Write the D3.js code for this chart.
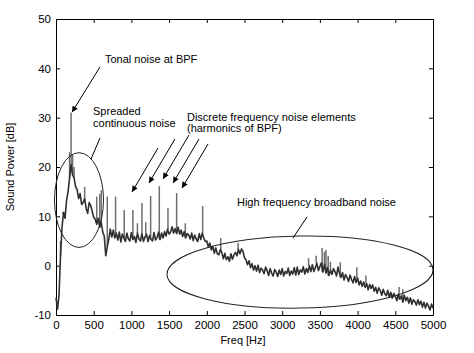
<!DOCTYPE html>
<html><head><meta charset="utf-8">
<script src="https://cdn.jsdelivr.net/npm/d3@7"></script>
<style>
html,body{margin:0;padding:0;background:#fff;}
svg{display:block;font-family:"Liberation Sans",Arial,sans-serif;}
</style></head>
<body><svg id="chart" width="474" height="353"></svg>
<script>
// ---- data ----
const freqStep = 20; // Hz between samples
// dark spectrum trace, dB, sampled every 20 Hz from 0 to 5000 Hz
const soundPower = [
 -6.5,-8.8,-6.0,2.0,7.8,10.8,9.6,13.2,15.0,17.8,        // 0-180
 20.5,18.4,17.8,16.0,15.4,13.6,14.6,12.4,12.8,13.6,     // 200-380
 11.6,10.6,12.8,12.2,11.0,9.8,9.4,8.4,9.6,7.8,          // 400-580
 8.8,6.8,6.0,2.0,3.8,5.4,7.4,5.8,7.2,5.6,               // 600-780
 6.6,5.2,6.8,4.8,6.4,5.6,4.9,6.6,5.4,5.0,               // 800-980
 6.7,5.3,5.9,4.7,6.6,5.4,5.0,6.5,4.9,5.8,               // 1000-1180
 6.4,4.9,6.1,5.3,5.0,6.7,5.2,5.7,6.8,5.3,               // 1200-1380
 6.6,5.6,6.9,6.0,7.4,6.4,6.8,7.9,6.6,7.5,               // 1400-1580
 6.5,7.8,6.4,7.2,5.9,6.9,5.6,6.5,6.2,5.4,               // 1600-1780
 6.6,5.1,6.2,5.4,4.9,6.5,5.3,6.6,5.6,4.9,               // 1800-1980
 5.0,3.8,4.6,3.2,3.9,2.5,3.6,2.4,2.2,3.3,               // 2000-2180
 2.6,1.4,2.5,1.2,1.8,0.9,2.4,1.3,2.2,2.7,               // 2200-2380
 2.0,3.3,2.4,3.4,2.9,1.6,1.2,0.2,1.0,-0.4,              // 2400-2580
 0.4,-0.9,0.0,-1.1,0.1,-1.4,-0.5,-0.9,-1.6,-0.3,        // 2600-2780
 -1.0,-2.0,-0.6,-1.5,-2.1,-0.8,-1.3,-2.2,-0.9,-1.8,     // 2800-2980
 -0.6,-2.1,-1.2,-1.6,-0.5,-2.0,-1.1,-1.7,-0.4,-1.9,     // 3000-3180
 -0.3,-1.8,-0.9,-1.3,-0.2,-1.7,-0.6,-1.4,0.0,-1.2,      // 3200-3380
 0.2,-1.2,-0.4,0.5,-1.0,-0.2,0.6,-1.3,0.3,-1.5,         // 3400-3580
 -0.4,-2.0,-0.9,-1.8,-0.6,-1.2,-2.1,-0.3,-1.6,-2.4,     // 3600-3780
 -1.4,-2.9,-1.8,-2.4,-3.2,-1.9,-2.8,-3.5,-2.2,-3.4,     // 3800-3980
 -2.5,-3.9,-3.1,-4.2,-3.3,-4.4,-3.6,-4.9,-3.8,-4.6,     // 4000-4180
 -3.9,-5.2,-4.4,-5.6,-4.5,-5.0,-6.0,-4.8,-5.7,-6.1,     // 4200-4380
 -5.0,-6.4,-5.4,-6.6,-5.6,-6.2,-7.1,-5.8,-6.8,-6.1,     // 4400-4580
 -7.4,-6.0,-7.1,-6.4,-7.6,-6.5,-7.8,-6.9,-7.3,-8.0,     // 4600-4780
 -6.9,-7.9,-7.2,-8.4,-7.4,-8.6,-7.6,-8.2,-9.0,-7.8,     // 4800-4980
 -8.6                                                   // 5000
];
// grey narrow-band peaks: frequency (Hz) and peak level (dB)
const peakFreqs = [60,90,180,200,220,240,380,540,580,600,680,790,905,1020,1080,1140,1190,1255,1370,1485,1600,1715,1945,2185,2415,3350,3450,3530,3560,3580,3610,3640,3770,3990,4110,4550,4600];
const peakLevels = [5,10.5,23,31,22.5,20,16,14,14.5,15.3,14,14,11.3,11.3,8.6,12.7,8.8,14.1,16.1,11.7,14.7,8.6,12.1,5.6,4.6,1.5,2.0,3.6,2.8,3.2,2.0,0.8,0.7,-0.3,-2,-4.3,-4.8];

const xTicks = [0,500,1000,1500,2000,2500,3000,3500,4000,4500,5000];
const yTicks = [-10,0,10,20,30,40,50];

// annotations (data coordinates)
const annoTexts = [
  {t:"Tonal noise at BPF", f:650, v:41.1},
  {t:"Spreaded", f:491, v:30.5},
  {t:"continuous noise", f:491, v:28.1},
  {t:"Discrete frequency noise elements", f:1737, v:29.3},
  {t:"(harmonics of BPF)", f:1737, v:27.0},
  {t:"High frequency broadband noise", f:2400, v:12.1}
];
const arrowStartF = [584,1353,1578,1764,1897,2016];
const arrowStartV = [40.3,23.85,25.68,26.49,25.68,24.66];
const arrowEndF   = [212,1008,1233,1419,1552,1671];
const arrowEndV   = [31.1,14.93,16.76,17.57,16.76,15.74];
const leaderStartF = [584,3329];
const leaderStartV = [25.9,9.86];
const leaderEndF   = [464,3143];
const leaderEndV   = [21.6,5.6];
const ellipseF  = [305,3236];
const ellipseV  = [13.3,-1.3];
const ellipseRF = [325,1764];
const ellipseRV = [9.6,7.3];
const ellipseTilt = [0,-1];

// ---- drawing ----
const svg = d3.select("#chart");
svg.append("rect").attr("width",474).attr("height",353).attr("fill","#fff");
const x = d3.scaleLinear().domain([0,5000]).range([56,433]);
const y = d3.scaleLinear().domain([-10,50]).range([315,19]);
const fs = "11px";
const plain = d => String(d);

const defs = svg.append("defs");
defs.append("marker").attr("id","ah").attr("viewBox","0 0 10 10")
  .attr("refX",10).attr("refY",5).attr("markerWidth",7).attr("markerHeight",6)
  .attr("markerUnits","userSpaceOnUse").attr("orient","auto")
  .append("path").attr("d","M0,0L10,5L0,10Z").attr("fill","#000");

// axes
const gB = svg.append("g").attr("transform","translate(0,315)")
  .call(d3.axisBottom(x).tickValues(xTicks).tickFormat(plain).tickSize(-4).tickSizeOuter(0).tickPadding(6));
const gT = svg.append("g").attr("transform","translate(0,19)")
  .call(d3.axisTop(x).tickValues(xTicks).tickSize(-4).tickSizeOuter(0).tickFormat(""));
const gL = svg.append("g").attr("transform","translate(56,0)")
  .call(d3.axisLeft(y).tickValues(yTicks).tickFormat(plain).tickSize(-4).tickSizeOuter(0).tickPadding(5));
const gR = svg.append("g").attr("transform","translate(433,0)")
  .call(d3.axisRight(y).tickValues(yTicks).tickSize(-4).tickSizeOuter(0).tickFormat(""));
[gB,gT,gL,gR].forEach(g=>{
  g.selectAll("path.domain").attr("stroke","#000");
  g.selectAll("line").attr("stroke","#000");
  g.selectAll("text").attr("fill","#000").style("font-size","11.5px").style("font-family","'Liberation Sans',Arial,sans-serif");
});

// peaks (grey)
const base = f => soundPower[Math.round(f/freqStep)];
svg.append("g").selectAll("line").data(peakFreqs).join("line")
  .attr("x1",d=>x(d)).attr("x2",d=>x(d))
  .attr("y1",d=>y(base(d))).attr("y2",(d,i)=>y(peakLevels[i]))
  .attr("stroke","#6e6e6e").attr("stroke-width",1.5);

// dark trace
const line = d3.line().x((d,i)=>x(i*freqStep)).y(d=>y(d));
svg.append("path").datum(soundPower).attr("d",line)
  .attr("fill","none").attr("stroke","#2f2f2f").attr("stroke-width",1.6).attr("stroke-linejoin","round");

// ellipses
ellipseF.forEach((f,i)=>{
  const cx=x(f), cy=y(ellipseV[i]);
  svg.append("ellipse").attr("cx",cx).attr("cy",cy)
    .attr("rx",x(ellipseRF[i])-x(0)).attr("ry",y(0)-y(ellipseRV[i]))
    .attr("transform",`rotate(${ellipseTilt[i]},${cx},${cy})`)
    .attr("fill","none").attr("stroke","#222").attr("stroke-width",1);
});

// arrows
arrowStartF.forEach((f,i)=>{
  svg.append("line").attr("x1",x(f)).attr("y1",y(arrowStartV[i]))
    .attr("x2",x(arrowEndF[i])).attr("y2",y(arrowEndV[i]))
    .attr("stroke","#000").attr("stroke-width",1).attr("marker-end","url(#ah)");
});
leaderStartF.forEach((f,i)=>{
  svg.append("line").attr("x1",x(f)).attr("y1",y(leaderStartV[i]))
    .attr("x2",x(leaderEndF[i])).attr("y2",y(leaderEndV[i]))
    .attr("stroke","#000").attr("stroke-width",1);
});

// annotation text
svg.append("g").selectAll("text").data(annoTexts).join("text")
  .attr("x",d=>x(d.f)).attr("y",d=>y(d.v)).text(d=>d.t)
  .attr("fill","#000").style("font-size",fs);

// axis titles
svg.append("text").attr("x",243).attr("y",344).attr("text-anchor","middle")
  .style("font-size",fs).text("Freq [Hz]");
svg.append("text").attr("transform","translate(14,167) rotate(-90)").attr("text-anchor","middle")
  .style("font-size",fs).text("Sound Power [dB]");
</script></body></html>
